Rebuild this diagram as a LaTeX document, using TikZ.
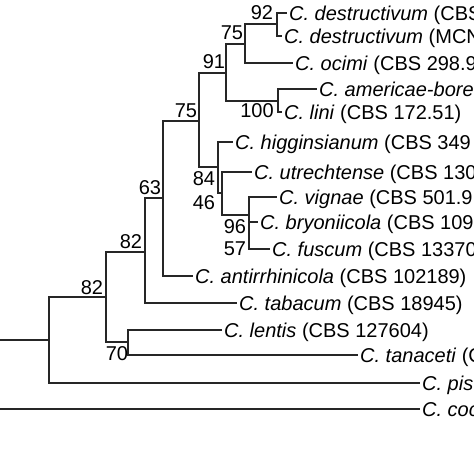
\documentclass[tikz,border=0pt]{standalone}
\usepackage{fontspec}
\setmainfont{Liberation Sans}
\tikzset{
  taxon/.style={anchor=west, inner sep=2pt, text height=14.3pt, text depth=0pt},
  boot/.style={inner sep=0pt},
  branch/.style={line width=1.2pt, draw=black!85}
}
\begin{document}
\begin{tikzpicture}[x=1pt,y=-1pt,font=\fontsize{20}{24}\selectfont]
    \useasboundingbox (0,0) rectangle (474,474);
    \clip (0,0) rectangle (474,474);
    % inner nodes
    \coordinate (n92) at (277,24); \coordinate (n75a) at (245,44);
    \coordinate (n100) at (278,101); \coordinate (n91) at (226,73);
    \coordinate (n96) at (249,215); \coordinate (n46) at (222,193);
    \coordinate (n84) at (218,167); \coordinate (n75b) at (199,121);
    \coordinate (n63) at (163,198); \coordinate (n82a) at (145,252);
    \coordinate (n70) at (128,342); \coordinate (n82b) at (106,297);
    \coordinate (n49) at (49,340); \coordinate (root) at (-3,375);
    % taxa
    \node[taxon] (t1) at (287,13) {\textit{C. destructivum} (CBS};
    \node[taxon] (t2) at (282,36) {\textit{C. destructivum} (MCN};
    \node[taxon] (t3) at (293,63) {\textit{C. ocimi} (CBS 298.9};
    \node[taxon] (t4) at (317,89) {\textit{C. americae-bore}};
    \node[taxon] (t5) at (282,112) {\textit{C. lini} (CBS 172.51)};
    \node[taxon] (t6) at (233,142) {\textit{C. higginsianum} (CBS 349};
    \node[taxon] (t7) at (252,172) {\textit{C. utrechtense} (CBS 130};
    \node[taxon] (t8) at (277,197) {\textit{C. vignae} (CBS 501.9};
    \node[taxon] (t9) at (258,222) {\textit{C. bryoniicola} (CBS 109};
    \node[taxon] (t10) at (270,249) {\textit{C. fuscum} (CBS 13370};
    \node[taxon] (t11) at (193,276) {\textit{C. antirrhinicola} (CBS 102189)};
    \node[taxon] (t12) at (237,303) {\textit{C. tabacum} (CBS 18945)};
    \node[taxon] (t13) at (222,330) {\textit{C. lentis} (CBS 127604)};
    \node[taxon] (t14) at (358,355) {\textit{C. tanaceti} (C};
    \node[taxon] (t15) at (420,383) {\textit{C. pis}};
    \node[taxon] (t16) at (420,409) {\textit{C. coc}};
    % branches
    \draw[branch] (n92) |- (t1.west) (n92) |- (t2.west);
    \draw[branch] (n75a) |- (n92) (n75a) |- (t3.west);
    \draw[branch] (n100) |- (t4.west) (n100) |- (t5.west);
    \draw[branch] (n91) |- (n75a) (n91) |- (n100);
    \draw[branch] (n96) |- (t8.west) (n96) |- (t9.west) (n96) |- (t10.west);
    \draw[branch] (n46) |- (t7.west) (n46) |- (n96);
    \draw[branch] (n84) |- (t6.west) (n84) |- (n46);
    \draw[branch] (n75b) |- (n91) (n75b) |- (n84);
    \draw[branch] (n63) |- (n75b) (n63) |- (t11.west);
    \draw[branch] (n82a) |- (n63) (n82a) |- (t12.west);
    \draw[branch] (n70) |- (t13.west) (n70) |- (t14.west);
    \draw[branch] (n82b) |- (n82a) (n82b) |- (n70);
    \draw[branch] (n49) |- (n82b) (n49) |- (t15.west);
    \draw[branch] (root) |- (n49) (root) |- (t16.west);
    % support values
    \node[boot] (b92) at (262,13) {92}; \node[boot] (b75a) at (232,33) {75};
    \node[boot] (b91) at (214,62) {91}; \node[boot] (b100) at (257,111) {100};
    \node[boot] (b75b) at (186,111) {75}; \node[boot] (b84) at (204,179) {84};
    \node[boot] (b46) at (204,203) {46}; \node[boot] (b96) at (235,227) {96};
    \node[boot] (b57) at (235,249) {57}; \node[boot] (b63) at (150,188) {63};
    \node[boot] (b82a) at (131,242) {82}; \node[boot] (b82b) at (92,288) {82};
    \node[boot] (b70) at (117,354) {70};
\end{tikzpicture}
\end{document}
